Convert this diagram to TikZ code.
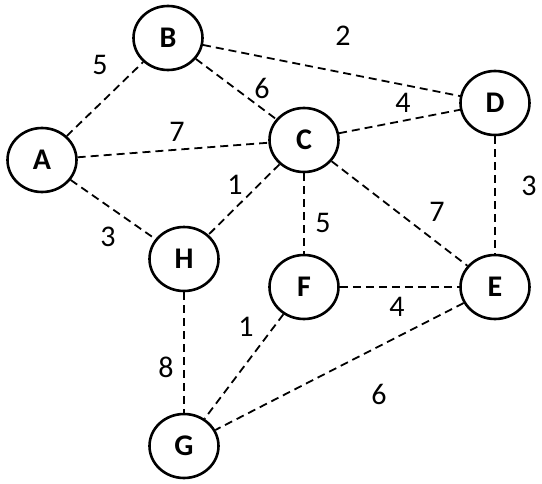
\documentclass[tikz,border=0pt]{standalone}
\usepackage{fontspec}
\setmainfont{Carlito}
\usepackage{tikz}
\usetikzlibrary{shapes.geometric}

\begin{document}
\begin{tikzpicture}[x=1pt, y=-1pt,
    vertex/.style={ellipse, draw, line width=2.6pt, minimum width=69pt, minimum height=64pt, inner sep=0pt, font=\fontsize{30}{30}\selectfont\bfseries},
    edge/.style={dash pattern=on 8pt off 5pt, line width=1.8pt},
    weight/.style={font=\fontsize{30}{30}\selectfont, inner sep=0pt}]
    \useasboundingbox (0,0) rectangle (542,483);

    % --- simpul ---
    \node[vertex] (A) at (42,160) {A};
    \node[vertex] (B) at (168,38) {B};
    \node[vertex] (C) at (304,140) {C};
    \node[vertex] (D) at (495,103) {D};
    \node[vertex] (H) at (184,259) {H};
    \node[vertex] (F) at (304,287) {F};
    \node[vertex] (E) at (495,287) {E};
    \node[vertex] (G) at (184,446) {G};

    % --- sisi ---
    \draw[edge] (A) -- (B);
    \draw[edge] (B) -- (D);
    \draw[edge] (B) -- (C);
    \draw[edge] (A) -- (C);
    \draw[edge] (C) -- (D);
    \draw[edge] (D) -- (E);
    \draw[edge] (A) -- (H);
    \draw[edge] (C) -- (H);
    \draw[edge] (C) -- (F);
    \draw[edge] (C) -- (E);
    \draw[edge] (F) -- (E);
    \draw[edge] (F) -- (G);
    \draw[edge] (H) -- (G);
    \draw[edge] (E) -- (G);

    % --- bobot ---
    \node[weight] (wAB) at (100,65) {5};
    \node[weight] (wBD) at (343,36) {2};
    \node[weight] (wBC) at (262,88) {6};
    \node[weight] (wAC) at (177,132) {7};
    \node[weight] (wCD) at (403,103) {4};
    \node[weight] (wDE) at (529,186) {3};
    \node[weight] (wAH) at (108,237) {3};
    \node[weight] (wCH) at (235,185) {1};
    \node[weight] (wCF) at (323,223) {5};
    \node[weight] (wCE) at (437,212) {7};
    \node[weight] (wFE) at (397,307) {4};
    \node[weight] (wFG) at (246,327) {1};
    \node[weight] (wHG) at (166,367) {8};
    \node[weight] (wEG) at (379,394) {6};

\end{tikzpicture}
\end{document}
